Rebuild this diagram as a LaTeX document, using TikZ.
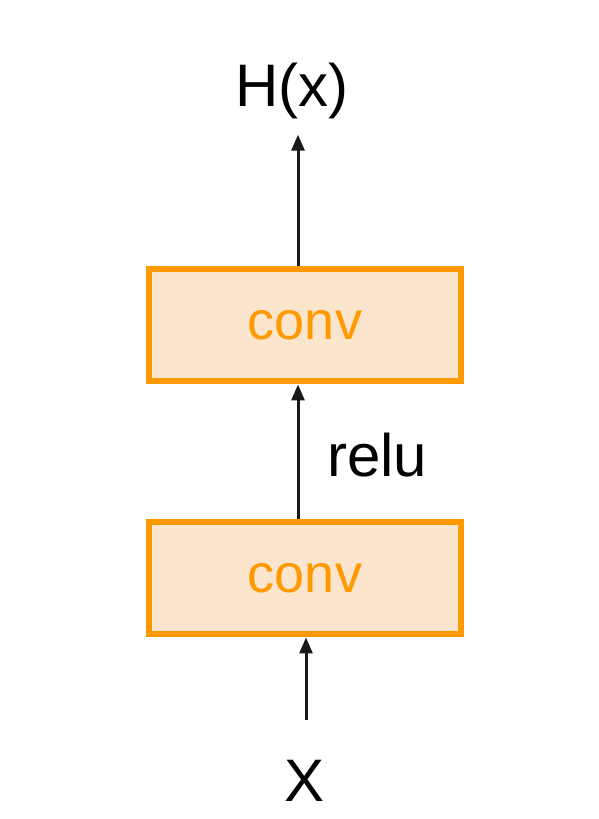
\documentclass[tikz,border=0pt]{standalone}
\usepackage{fontspec}
\setmainfont{Liberation Sans}
\usetikzlibrary{arrows.meta}
\definecolor{boxorange}{HTML}{FF9900}
\definecolor{boxfill}{HTML}{FCE5CD}
\definecolor{arrowgray}{HTML}{1A1A1A}
\begin{document}
\begin{tikzpicture}[x=1pt,y=1pt,
  convbox/.style={draw=boxorange, fill=boxfill, line width=6pt, minimum width=312pt, minimum height=112pt, inner sep=0pt, text=boxorange, font=\fontsize{54}{60}\selectfont},
  lbl/.style={inner sep=0pt, font=\fontsize{60}{66}\selectfont, text=black},
  arr/.style={draw=arrowgray, line width=3pt, -{Triangle[length=16pt,width=13pt]}}]
\useasboundingbox (0,0) rectangle (598,819);
\node[convbox] (c2) at (305,493.5) {conv};
\node[convbox] (c1) at (305,240.5) {conv};
\node[lbl, anchor=base] (hx) at (292,712) {H(x)};
\node[lbl, anchor=base west] (relu) at (327,342) {relu};
\node[lbl, anchor=base] (x) at (305,17) {X};
\coordinate (xin) at (306,99);
\coordinate (a2) at ([xshift=-7pt]c2.north);
\coordinate (a1) at ([xshift=-7pt]c1.north);
\draw[arr] (a2) -- ([yshift=-15pt]hx.south -| a2);
\draw[arr] (a1) -- (c2.south -| a1);
\draw[arr] (xin) -- (c1.south -| xin);
\end{tikzpicture}
\end{document}
